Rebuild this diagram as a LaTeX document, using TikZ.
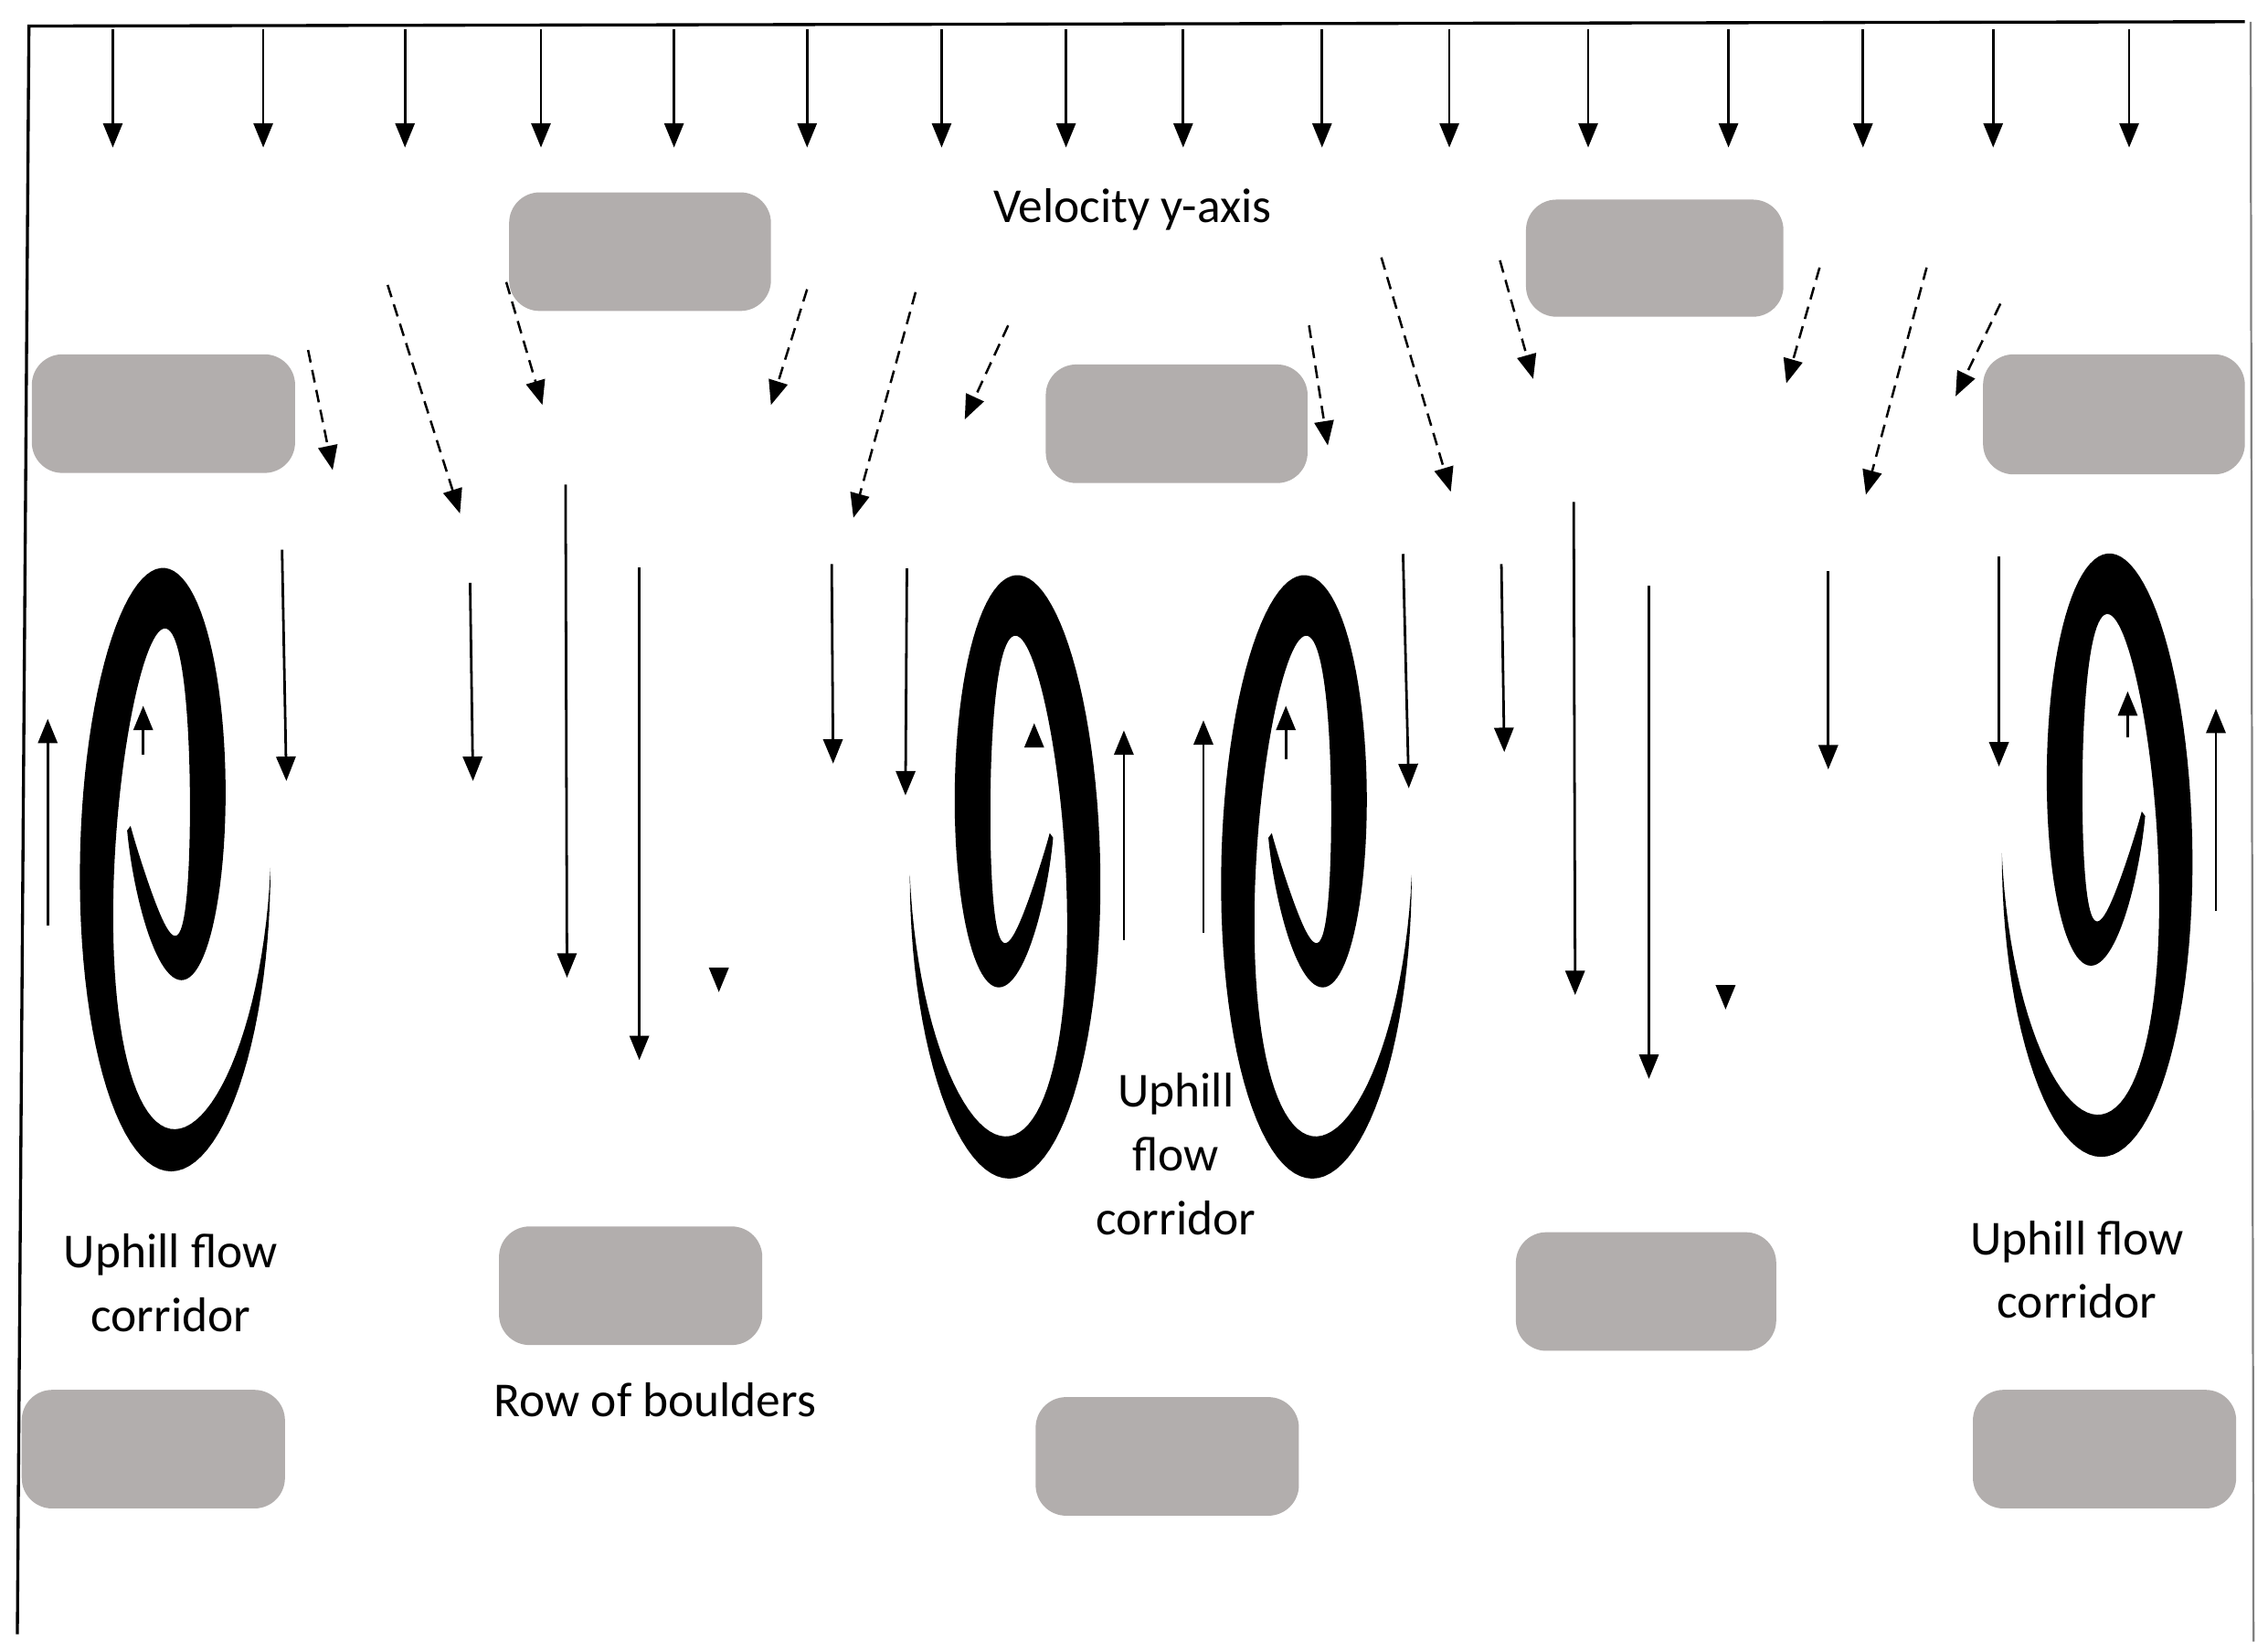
\documentclass[tikz,border=0pt]{standalone}
\usepackage{fontspec}
\setmainfont{Carlito}
\usetikzlibrary{arrows.meta}
\definecolor{boulder}{RGB}{178,174,173}
\tikzset{
  box/.style={fill=boulder,rounded corners=6pt,draw=none},
  arr/.style={line width=0.5pt,-{Triangle[width=3.8pt,length=4.8pt]}},
  darr/.style={line width=0.45pt,dash pattern=on 2.5pt off 1.5pt,-{Triangle[width=3.8pt,length=4.8pt]}},
  lbl/.style={font=\fontsize{9.6}{12.5}\selectfont,align=center}
}
\newcommand{\myspiral}[3]{% cx cy xscale(+1/-1)
\begin{scope}[shift={(#1,#2)},xscale=#3]
\fill[black] plot[variable=\t,domain=0:525,samples=150]
  ({(71-42*sin(\t/6)^2)*cos(\t)},{-0.08*\t+(217-0.05*(\t-90)-7*((\t-90)/100)^2)*sin(\t)})
 -- plot[variable=\t,domain=525:0,samples=150]
  ({(71-42*sin(\t/6)^2-28*sin(\t/3))*cos(\t)},{-0.08*\t+(217-0.05*(\t-90)-7*((\t-90)/100)^2-42*sqrt(abs(sin(\t/3))))*sin(\t)}) -- cycle;
\end{scope}}
\begin{document}
\begin{tikzpicture}[x=0.01cm,y=-0.01cm]
\useasboundingbox (0,0) rectangle (1568,1141);
\draw[line width=0.6pt] (12,1130) -- (20,18) -- (1552,15);
\draw[line width=0.4pt,gray] (1556,15) -- (1558,1135);
% top arrows
\foreach \x in {78,182,280,374,466,558,651,737,818,914,1002,1098,1195,1288,1378,1472}
  \draw[arr] (\x,20) -- (\x,102);
\node[lbl] (vel) at (783,145) {Velocity y-axis};
% boulders
\foreach \a/\b/\c/\d in {352/133/533/215,22/245/204/327,723/252/904/334,1055/138/1233/219,1371/245/1552/328,
  345/848/527/930,15/961/197/1043,716/966/898/1048,1048/852/1228/934,1364/961/1546/1043}
  \fill[box] (\a,\b) rectangle (\c,\d);
% dashed diagonals
\foreach \a/\b/\c/\d in {213/242/230/325,268/197/318/355,350/195/375/280,558/200/533/280,633/202/590/358,697/225/667/290,
  905/225/918/308,955/178/1003/340,1037/180/1060/262,1258/185/1235/265,1332/185/1290/342,1383/210/1352/274}
  \draw[darr] (\a,\b) -- (\c,\d);
% down arrows
\foreach \a/\b/\c/\d in {195/380/198/540,325/403/327/540,391/335/392/676,442/392/442/733,497/678/497/686,575/390/576/528,
  627/393/626/550,970/383/974/545,1038/390/1040/520,1088/347/1089/688,1140/405/1140/746,1193/690/1193/698,1264/395/1264/532,1382/385/1382/530}
  \draw[arr] (\a,\b) -- (\c,\d);
% spirals
\myspiral{116}{600}{1}
\myspiral{700}{605}{-1}
\myspiral{905}{605}{1}
\myspiral{1455}{590}{-1}
% up arrows
\foreach \a/\b/\c/\d in {33/640/33/497,99/522/99/488,715/512/715/500,777/650/777/505,832/645/832/498,889/525/889/488,1471/510/1471/478,1532/630/1532/490}
  \draw[arr] (\a,\b) -- (\c,\d);
% labels
\node[lbl] (u1) at (118,887) {Uphill flow\\corridor};
\node[lbl] (rb) at (453,968) {Row of boulders};
\node[lbl] (u2) at (813,798) {Uphill\\flow\\corridor};
\node[lbl] (u3) at (1436,878) {Uphill flow\\corridor};
\end{tikzpicture}
\end{document}
